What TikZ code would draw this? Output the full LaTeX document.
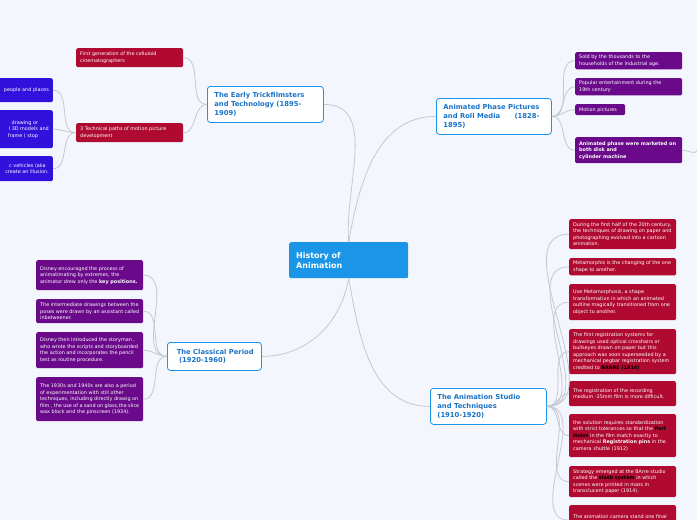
\documentclass[tikz,border=0pt]{standalone}
\usepackage{fontspec}
\setmainfont{DejaVu Sans}
\definecolor{bg}{HTML}{F3F6FD}
\definecolor{cblue}{HTML}{1B95E8}
\definecolor{tblue}{HTML}{1A73C8}
\definecolor{bred}{HTML}{B00A30}
\definecolor{bpurp}{HTML}{6A0A8A}
\definecolor{bviol}{HTML}{3311DD}
\definecolor{lgray}{HTML}{C4C8D0}
\begin{document}
\begin{tikzpicture}[x=1pt,y=-1pt,
  central/.style={fill=cblue,rounded corners=2pt,text=white,font=\fontsize{8}{10}\selectfont\bfseries,align=left,anchor=north west,text width=105pt,minimum height=36pt,inner sep=6pt},
  topic/.style={fill=white,draw=cblue,line width=0.8pt,rounded corners=3pt,text=tblue,font=\fontsize{6.8}{8.6}\selectfont\bfseries,align=flush left,anchor=north west,inner xsep=7pt,inner ysep=5pt},
  leaf/.style={rounded corners=1.5pt,text=white,font=\fontsize{4.9}{6.5}\selectfont,align=flush left,anchor=north west,text width=99pt,inner xsep=4pt,inner ysep=3pt},
  rleaf/.style={leaf,fill=bred},
  pleaf/.style={leaf,fill=bpurp},
  vleaf/.style={leaf,fill=bviol},
  con/.style={draw=lgray,line width=0.8pt}]
\fill[bg] (0,0) rectangle (697,520);
\useasboundingbox (0,0) rectangle (697,520);
\begin{scope}
\clip (0,0) rectangle (697,520);
\node[central,minimum width=119pt] (c) at (289,242) {History of\\Animation};
\node[topic,text width=102pt,minimum height=36pt] (et) at (207,86) {The Early Trickfilmsters\\and Technology (1895-\\1909)};
\node[topic,text width=101pt,minimum height=36pt] (ap) at (436,98) {Animated Phase Pictures\\and Roll Media \hspace{12pt}(1828-\\1895)};
\node[topic,text width=80pt,minimum height=28pt] (cp) at (167,342) {\ The Classical Period\\ \ \ (1920-1960)};
\node[topic,text width=102pt,minimum height=36pt] (as) at (430,388) {The Animation Studio\\and Techniques\\(1910-1920)};

\node[rleaf,minimum height=19pt] (e1) at (76,48) {First generation of the celluloid cinematographers};
\node[rleaf,minimum height=19pt] (e2) at (76,123) {3 Technical paths of motion picture development};
\node[vleaf,anchor=north east,minimum height=24pt,align=right] (v1) at (53,78) {people and places};
\node[vleaf,anchor=north east,minimum height=38pt] (v2) at (53,110) {\hfill drawing or\phantom{ and}\\\hfill l 3D models and\\\hfill frame ( stop\phantom{ and}};
\node[vleaf,anchor=north east,minimum height=25pt] (v3) at (53,156) {\hfill c vehicles (aka\phantom{n}\\\hfill create an illusion.};

\node[pleaf,minimum height=17pt] (p1) at (575,52) {Sold by the thousands to the\\households of the industrial age.};
\node[pleaf,minimum height=17pt] (p2) at (575,78) {Popular entertainment during the\\19th century};
\node[pleaf,text width=42pt,minimum height=11pt] (p3) at (575,104) {Motion pictures};
\node[pleaf,minimum height=26pt,font=\fontsize{4.9}{6.5}\selectfont\bfseries] (p4) at (575,137) {Animated phase were marketed on\\both disk and\\cylinder machine};
\coordinate (pend) at (697,150);

\node[pleaf,minimum height=30pt] (k1) at (36,260) {Disney encouraged the process of animatimating by extremes, the animator drew only the \textbf{key positions.}};
\node[pleaf,minimum height=24pt] (k2) at (36,299) {The intermediate drawings between the poses were drawn by an assistant called inbetweener.};
\node[pleaf,minimum height=36pt] (k3) at (36,332) {Disney then introduced the storyman , who wrote the scripts and storyboarded the action and incorporates the pencil test as routine procedure.};
\node[pleaf,minimum height=44pt] (k4) at (36,377) {The 1930s and 1940s are also a period of experimentation with still other techniques, including directly drawig on film , the use of a sand on glass,the slice wax block and the pinscreen (1934).};

\node[rleaf,minimum height=30pt] (s1) at (569,219) {During the first half of the 20th century, the techniques of drawing on paper and photographing evolved into a cartoon animation.};
\node[rleaf,minimum height=17pt] (s2) at (569,258) {Metamorphis is the changing of the one shape to another.};
\node[rleaf,minimum height=36pt] (s3) at (569,284) {Use Metamorphosis, a shape transformation in which an animated outline magically transitioned from one object to another.};
\node[rleaf,minimum height=45pt] (s4) at (569,329) {The first registration systems for drawings used optical crosshairs or bullseyes drawn on paper but this approach was soon superseeded by a mechanical pegbar registration system credited to \textcolor{black}{\textbf{BARRE (1914)}}};
\node[rleaf,minimum height=25pt] (s5) at (569,381) {The registration of the recording medium -35mm film is more difficult.};
\node[rleaf,minimum height=43pt] (s6) at (569,414) {the solution requires standardization with strict tolerances so that the \textcolor{black}{\textbf{Perf Holes}} in the film match exactly to mechanical \textbf{Registration pins} in the camera shuttle (1912)};
\node[rleaf,minimum height=31pt] (s7) at (569,466) {Strategy emerged at the BArre studio called the \textcolor{black}{\textbf{slash system}} in which scenes were printed in mass in transclucent paper (1914).};
\node[rleaf,minimum height=30pt] (s8) at (569,505) {The animation camera stand one final piece of the filmmaking};

\draw[con] (c.north) to[out=95,in=0] (et.east);
\draw[con] (c.north) to[out=80,in=180] (ap.west);
\draw[con] (c.south) to[out=-100,in=0] (cp.east);
\draw[con] (c.south) to[out=-80,in=180] (as.west);
\foreach \n in {e1,e2} \draw[con] (et.west) to[out=180,in=0] (\n.east);
\foreach \n in {v1,v2,v3} \draw[con] (e2.west) to[out=180,in=0] (\n.east);
\foreach \n in {p1,p2,p3,p4} \draw[con] (ap.east) to[out=0,in=180] (\n.west);
\draw[con] (p4.east) to[out=0,in=-100] (pend);
\foreach \n in {k1,k2,k3,k4} \draw[con] (cp.west) to[out=180,in=0] (\n.east);
\foreach \n in {s1,s2,s3,s4,s5,s6,s7,s8} \draw[con] (as.east) to[out=0,in=180] (\n.west);
\end{scope}
\end{tikzpicture}
\end{document}
